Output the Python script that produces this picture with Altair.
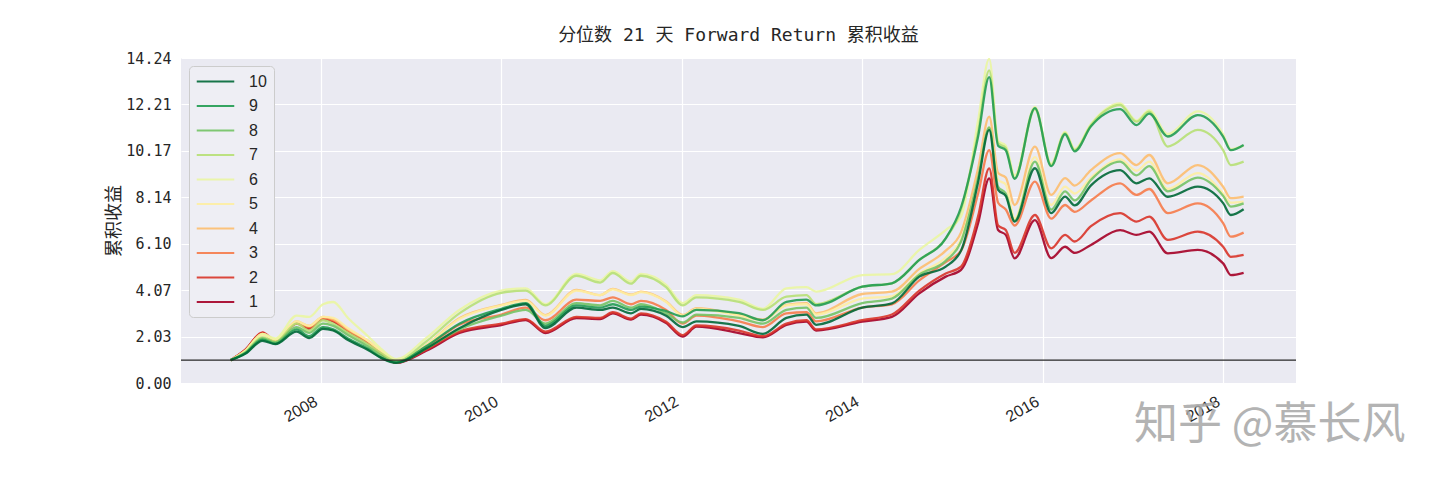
import altair as alt
import pandas as pd

dates = ["2007-01-01","2007-03-01","2007-05-10","2007-07-01","2007-09-25","2007-11-15","2008-01-10","2008-02-20","2008-04-20","2008-07-10",
         "2008-09-01","2008-11-01","2009-03-01","2009-07-15","2010-01-01","2010-04-10","2010-06-28","2010-11-01","2011-02-05","2011-03-28",
         "2011-06-10","2011-07-20","2011-10-30","2012-01-05","2012-03-01","2012-08-20","2012-11-25","2013-02-28","2013-05-20","2013-06-28",
         "2014-01-01","2014-05-01","2014-08-20","2014-12-05","2015-02-05","2015-04-15","2015-05-30","2015-07-05","2015-08-05","2015-09-10",
         "2015-12-01","2016-02-05","2016-04-01","2016-05-10","2016-07-15","2016-11-10","2017-01-15","2017-03-08","2017-05-22","2017-09-20",
         "2018-01-01","2018-02-01","2018-03-25"]

q1 = [1.0,1.45,2.2,1.8,2.6,2.37,2.8,2.7,2.25,1.75,
      1.3,0.88,1.4,2.19,2.54,2.76,2.19,2.84,2.8,3.05,
      2.78,3.0,2.63,2.03,2.47,2.19,2.0,2.54,2.69,2.3,
      2.69,2.9,3.93,4.66,4.96,7.0,8.97,6.7,6.49,5.46,
      7.14,5.47,5.97,5.7,6.05,6.7,6.49,6.63,5.68,5.83,
      5.24,4.73,4.83]
q2 = [1.0,1.45,2.22,1.85,2.62,2.4,2.83,2.72,2.28,1.78,
      1.32,0.9,1.45,2.25,2.6,2.8,2.25,2.9,2.85,3.1,
      2.82,3.05,2.68,2.1,2.52,2.3,2.05,2.6,2.75,2.35,
      2.75,3.0,4.05,4.8,5.1,7.3,9.4,6.9,6.7,5.7,
      7.36,5.9,6.49,6.2,6.87,7.44,7.07,7.29,6.27,6.63,
      5.97,5.53,5.61]
q3 = [1.0,1.42,2.15,1.85,2.65,2.45,2.85,2.75,2.32,1.8,
      1.35,0.92,1.55,2.55,3.0,3.3,2.75,3.65,3.6,3.75,
      3.45,3.6,3.2,2.6,2.95,2.7,2.45,3.05,3.1,2.7,
      3.3,3.45,4.5,5.3,5.8,8.3,10.2,7.9,7.6,6.9,
      8.82,7.2,7.8,7.5,8.0,8.75,8.24,8.5,7.44,7.87,
      7.0,6.41,6.59]
q4 = [1.0,1.42,2.15,1.9,2.7,2.5,2.9,2.8,2.35,1.85,
      1.4,0.95,1.65,2.84,3.42,3.64,2.97,4.08,3.85,4.12,
      3.87,4.0,3.57,2.98,3.28,2.98,2.78,3.42,3.5,3.05,
      3.9,4.0,5.0,5.8,6.6,9.4,11.67,9.2,9.0,7.8,
      10.36,8.24,8.98,8.65,9.33,10.07,9.55,9.99,8.75,9.55,
      8.6,8.1,8.17]
q5 = [1.0,1.4,2.1,1.9,2.7,2.5,2.9,2.85,2.4,1.85,
      1.42,0.97,1.65,2.8,3.4,3.6,2.95,4.05,3.85,4.1,
      3.85,3.98,3.55,2.95,3.25,2.95,2.75,3.4,3.45,3.0,
      3.7,3.8,4.8,5.5,6.3,9.0,11.2,8.9,8.7,7.2,
      9.9,7.8,8.6,8.3,9.0,9.8,9.3,9.7,8.5,9.2,
      8.3,7.9,7.95]
q6 = [1.0,1.4,2.15,1.95,2.95,2.9,3.45,3.55,2.85,2.05,
      1.5,1.05,1.95,3.2,4.05,4.15,3.45,4.78,4.5,4.9,
      4.45,4.78,4.3,3.5,3.85,3.65,3.25,4.15,4.2,4.0,
      4.73,4.77,5.83,6.7,7.3,11.5,14.2,10.6,10.4,9.1,
      12.1,9.6,11.0,10.25,11.35,12.25,11.5,11.95,10.9,11.9,
      10.9,10.25,10.4]
q7 = [1.0,1.35,2.0,1.8,2.6,2.3,2.75,2.6,2.2,1.7,
      1.3,0.95,1.8,3.05,3.95,4.05,3.4,4.7,4.4,4.82,
      4.35,4.7,4.2,3.4,3.75,3.55,3.2,3.78,3.85,3.45,
      4.22,4.37,5.39,6.34,7.6,11.0,13.7,10.5,10.3,8.97,
      12.0,9.55,10.95,10.2,11.3,12.18,11.45,11.89,10.36,11.09,
      10.2,9.55,9.7]
q8 = [1.0,1.32,1.95,1.78,2.45,2.2,2.6,2.5,2.1,1.6,
      1.2,0.9,1.5,2.35,2.95,3.2,2.6,3.5,3.4,3.6,
      3.3,3.45,3.05,2.65,3.0,2.85,2.6,3.2,3.3,2.85,
      3.5,3.7,4.75,5.35,6.2,9.0,11.2,8.6,8.3,7.1,
      9.7,7.6,8.4,8.0,8.9,9.7,9.1,9.5,8.4,9.0,
      8.2,7.73,7.87]
q9 = [1.0,1.3,1.9,1.72,2.35,2.05,2.45,2.35,1.95,1.5,
      1.12,0.9,1.6,2.6,3.25,3.5,2.5,3.4,3.3,3.45,
      3.2,3.35,3.15,2.92,3.2,3.06,2.75,3.55,3.65,3.4,
      4.22,4.37,5.39,6.34,7.7,10.8,13.4,10.4,10.2,8.95,
      12.04,9.5,10.9,10.15,11.25,12.0,11.3,11.8,10.8,11.74,
      10.8,10.2,10.43]
q10 = [1.0,1.28,1.85,1.7,2.25,1.97,2.37,2.3,1.88,1.45,
       1.1,0.88,1.5,2.4,3.2,3.45,2.41,3.3,3.2,3.3,
       3.05,3.25,2.95,2.45,2.7,2.5,2.15,2.85,3.0,2.55,
       3.3,3.49,4.66,5.1,5.8,8.8,11.09,8.46,8.2,7.07,
       9.41,7.44,8.17,7.78,8.66,9.33,8.75,8.97,8.16,8.6,
       7.88,7.36,7.61]

names = ["1","2","3","4","5","6","7","8","9","10"]
series = [q1, q2, q3, q4, q5, q6, q7, q8, q9, q10]
colors = ["#a50026","#d93429","#f67b4a","#fdbe6f","#feeea2","#eaf6a2","#b7e075","#74c365","#229c52","#006837"]
y_ticks = [0.0, 2.034, 4.069, 6.103, 8.137, 10.171, 12.206, 14.24]
x_years = [2008, 2010, 2012, 2014, 2016, 2018]

rows = []
for name, vals in zip(names, series):
    assert len(vals) == len(dates), (name, len(vals))
    for d, v in zip(dates, vals):
        rows.append({"date": d, "value": v, "q": name})
df = pd.DataFrame(rows)

FONT = "DejaVu Sans Mono, Noto Sans CJK SC"
SANS = "Liberation Sans, Noto Sans CJK SC"
TXT = "#262626"

lines = alt.Chart(df).mark_line(interpolate="monotone", strokeWidth=2.3, opacity=0.9, clip=True).encode(
    x=alt.X("date:T",
            scale=alt.Scale(domain=["2006-06-14", "2018-10-23"]),
            axis=alt.Axis(title=None, values=[alt.DateTime(year=y, month=1, date=1) for y in x_years],
                          format="%Y", labelAngle=-30, labelAlign="right", labelBaseline="top",
                          labelPadding=10, labelOffset=-9, labelFontSize=16, labelColor=TXT,
                          labelFont=SANS)),
    y=alt.Y("value:Q",
            scale=alt.Scale(domain=[0, 14.24], nice=False, zero=False),
            axis=alt.Axis(title="累积收益", values=y_ticks, format=".2f", labelFontSize=15,
                          labelColor=TXT, labelFont=FONT, labelPadding=10, titleFontSize=18,
                          titleFont="Noto Sans CJK SC", titleColor=TXT, titleFontWeight="normal",
                          titlePadding=2)),
    color=alt.Color("q:N",
                    scale=alt.Scale(domain=names[::-1], range=colors[::-1]),
                    legend=alt.Legend(title=None, orient="none", legendX=8, legendY=8,
                                      symbolType="M-2.5,0H2.5", symbolSize=225, symbolStrokeWidth=2,
                                      symbolOffset=11, symbolFillColor="transparent",
                                      labelFontSize=16, labelFont=SANS,
                                      labelColor=TXT, labelOffset=25, rowPadding=7.5, padding=7,
                                      fillColor="#EEEEF4", strokeColor="#cccccc",
                                      cornerRadius=4)),
)

baseline = alt.Chart(pd.DataFrame({"y": [1.0]})).mark_rule(color="#262626", strokeWidth=1.3).encode(
    y=alt.Y("y:Q")
)

watermark = alt.Chart(pd.DataFrame({"t": ["知乎 @慕长风"]})).mark_text(
    align="left", baseline="middle", fontSize=44, font="Noto Sans CJK SC", color="#a6a6a6", opacity=0.85
).encode(text="t:N", x=alt.value(953), y=alt.value(368))

chart = alt.layer(lines, baseline, watermark).properties(
    width=1115, height=325,
    background="#ffffff",
    title=alt.TitleParams("分位数 21 天 Forward Return 累积收益", fontSize=18, font=FONT,
                          color=TXT, fontWeight="normal", offset=6),
    autosize=alt.AutoSizeParams(type="none"),
    padding={"left": 173, "top": 50, "right": 130, "bottom": 80},
).configure_view(fill="#EAEAF2", stroke=None).configure_axis(
    grid=True, gridColor="#ffffff", gridWidth=1.2, domain=False, ticks=False
)

chart.save("out.html", embed_options={"renderer": "svg", "actions": False})
